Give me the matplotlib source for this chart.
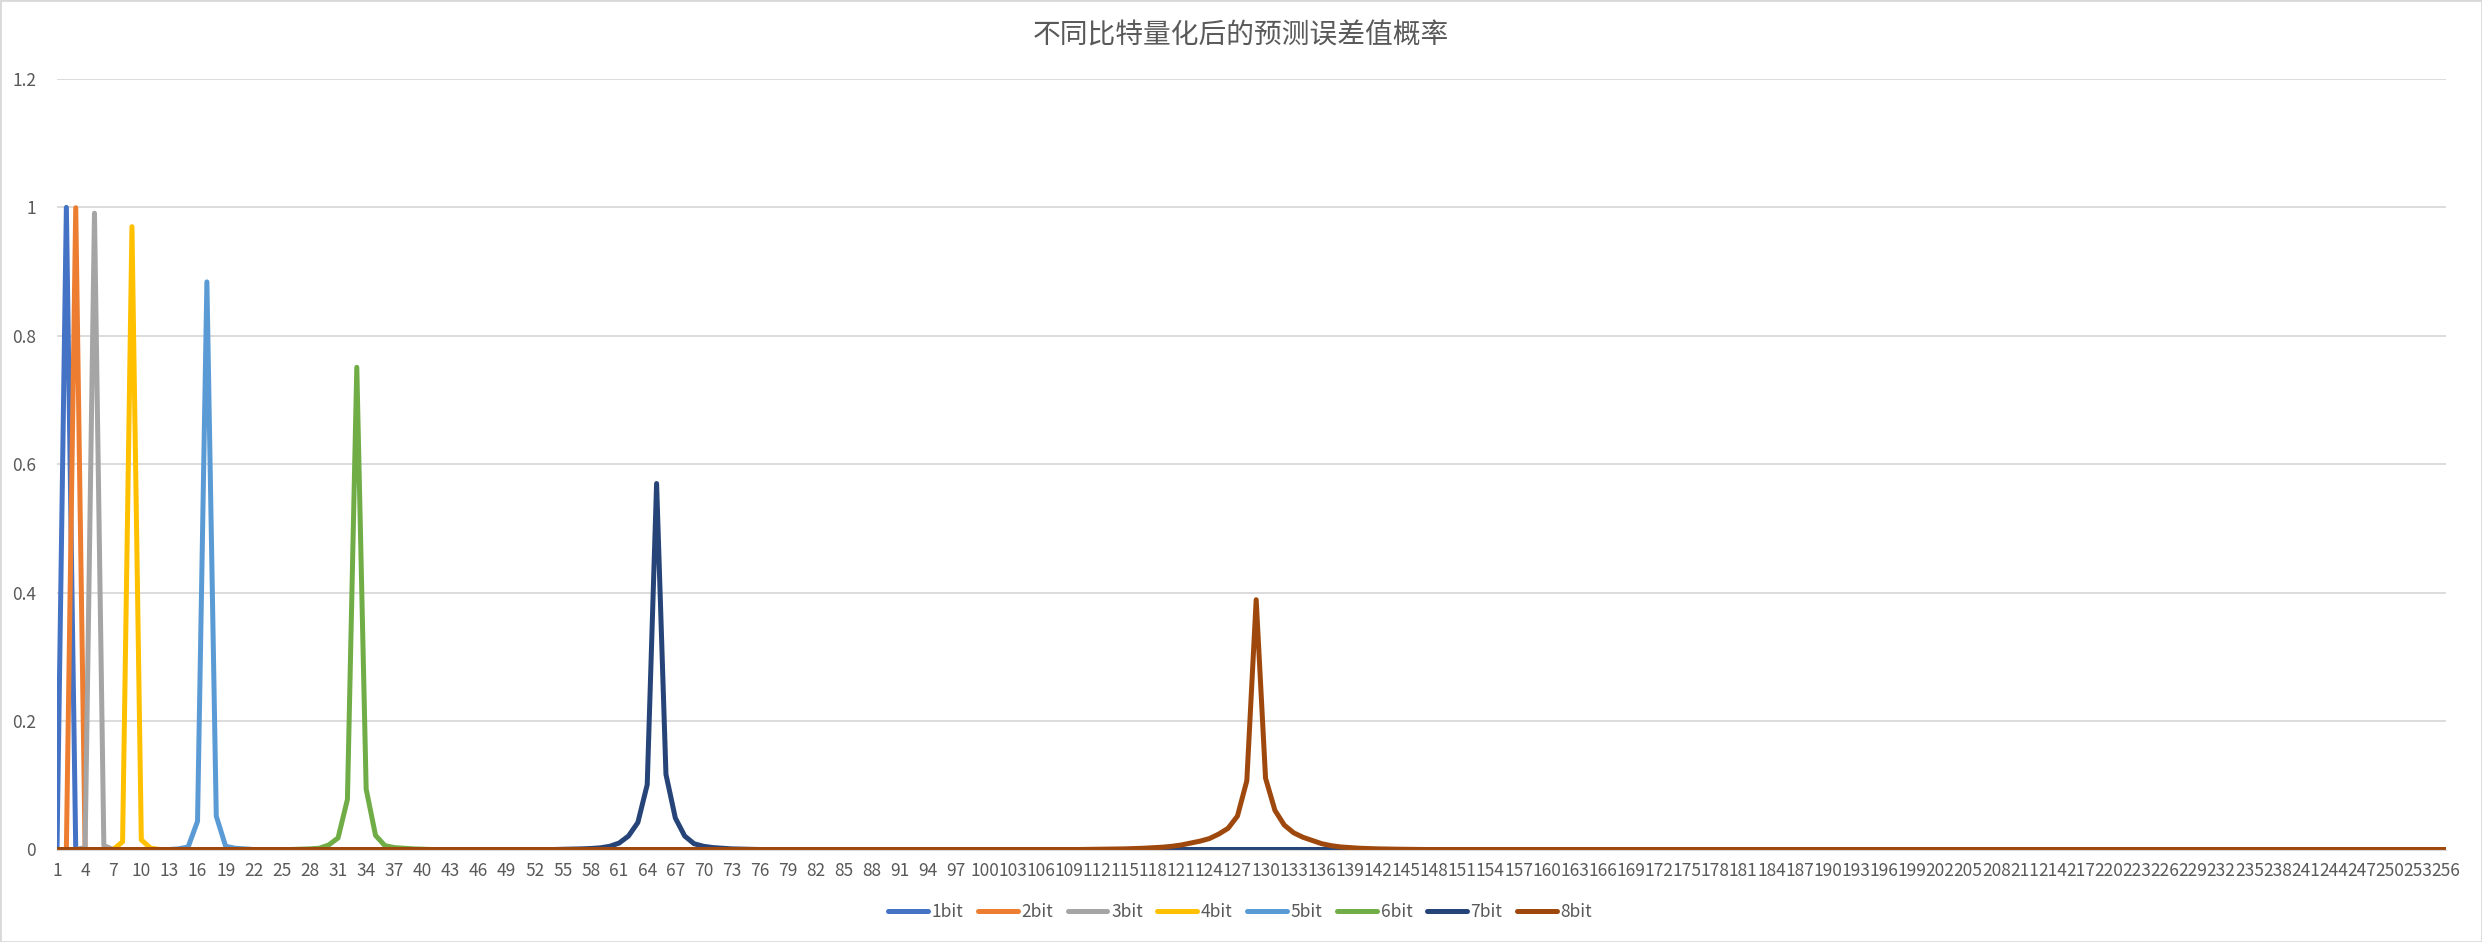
import numpy as np
import matplotlib
matplotlib.use('Agg')
import matplotlib.pyplot as plt
from matplotlib.patches import Rectangle

plt.rcParams['font.family'] = ['Noto Sans CJK SC', 'DejaVu Sans']

# x categories 1..256, tick label every 3rd one
categories = np.arange(1, 257)
tick_cats = categories[::3]

series_names = ['1bit', '2bit', '3bit', '4bit', '5bit', '6bit', '7bit', '8bit']
series_colors = ['#4472C4', '#ED7D31', '#A5A5A5', '#FFC000',
                 '#5B9BD5', '#70AD47', '#264478', '#9E480E']

# non zero probabilities (category: value), rest is 0
p1bit = {2: 1.0}
p2bit = {3: 0.9995}
p3bit = {4: 0.003, 5: 0.991, 6: 0.006}
p4bit = {8: 0.012, 9: 0.970, 10: 0.015, 11: 0.002}
p5bit = {14: 0.001, 15: 0.004, 16: 0.044, 17: 0.884, 18: 0.052,
         19: 0.005, 20: 0.002, 21: 0.001}
p6bit = {27: 0.0005, 28: 0.001, 29: 0.002, 30: 0.007, 31: 0.018, 32: 0.078,
         33: 0.751, 34: 0.094, 35: 0.022, 36: 0.006, 37: 0.003, 38: 0.002,
         39: 0.001, 40: 0.0005}
p7bit = {55: 0.0003, 56: 0.0006, 57: 0.001, 58: 0.0016, 59: 0.0026, 60: 0.005,
         61: 0.010, 62: 0.021, 63: 0.042, 64: 0.101, 65: 0.570, 66: 0.117,
         67: 0.049, 68: 0.021, 69: 0.009, 70: 0.005, 71: 0.003, 72: 0.002,
         73: 0.001, 74: 0.0006, 75: 0.0003}
p8bit = {111: 0.0002, 112: 0.0003, 113: 0.0005, 114: 0.0007, 115: 0.001,
         116: 0.0015, 117: 0.002, 118: 0.0028, 119: 0.0036, 120: 0.005,
         121: 0.007, 122: 0.010, 123: 0.013, 124: 0.017, 125: 0.024,
         126: 0.033, 127: 0.052, 128: 0.107, 129: 0.389, 130: 0.111,
         131: 0.061, 132: 0.038, 133: 0.026, 134: 0.019, 135: 0.014,
         136: 0.009, 137: 0.006, 138: 0.004, 139: 0.003, 140: 0.002,
         141: 0.0015, 142: 0.001, 143: 0.0007, 144: 0.0005, 145: 0.0003,
         146: 0.0002}
series_points = [p1bit, p2bit, p3bit, p4bit, p5bit, p6bit, p7bit, p8bit]

fig = plt.figure(figsize=(24.82, 9.42), dpi=100)
ax = fig.add_axes([57 / 2482, 1 - 849.5 / 942, (2446 - 57) / 2482, (849.5 - 79) / 942])

for name, color, pts in zip(series_names, series_colors, series_points):
    vals = np.zeros(len(categories))
    for c, v in pts.items():
        vals[c - 1] = v
    ax.plot(categories, vals, color=color, lw=3.6, label=name,
            solid_joinstyle='round', solid_capstyle='round')

ax.set_xlim(1, 256)
ax.set_ylim(0, 1.2)
ax.set_yticks([0, 0.2, 0.4, 0.6, 0.8, 1.0, 1.2])
ax.set_yticklabels(['0', '0.2', '0.4', '0.6', '0.8', '1', '1.2'])
ax.set_xticks(tick_cats)
ax.set_xticklabels([str(c) for c in tick_cats])
ax.yaxis.grid(True, color='#d9d9d9', lw=1.3)
ax.set_axisbelow(True)
ax.tick_params(axis='both', length=0, colors='#595959', labelsize=12.5)
ax.tick_params(axis='x', pad=9)
ax.tick_params(axis='y', pad=15)
for s in ['top', 'right', 'left']:
    ax.spines[s].set_visible(False)
ax.spines['bottom'].set_color('#d9d9d9')

fig.text(0.5, 1 - 35 / 942, '不同比特量化后的预测误差值概率', ha='center', va='center',
         fontsize=20, color='#595959')

fig.legend(loc='center', bbox_to_anchor=(1240 / 2482, 1 - 912 / 942), ncol=8,
           frameon=False, fontsize=12.5, handlelength=2.3, handletextpad=0.2,
           columnspacing=0.85, labelcolor='#595959')

fig.patches.append(Rectangle((0, 0), 1, 1, transform=fig.transFigure, fill=False,
                             edgecolor='#d9d9d9', lw=2))

fig.savefig('out.png', dpi=100)
